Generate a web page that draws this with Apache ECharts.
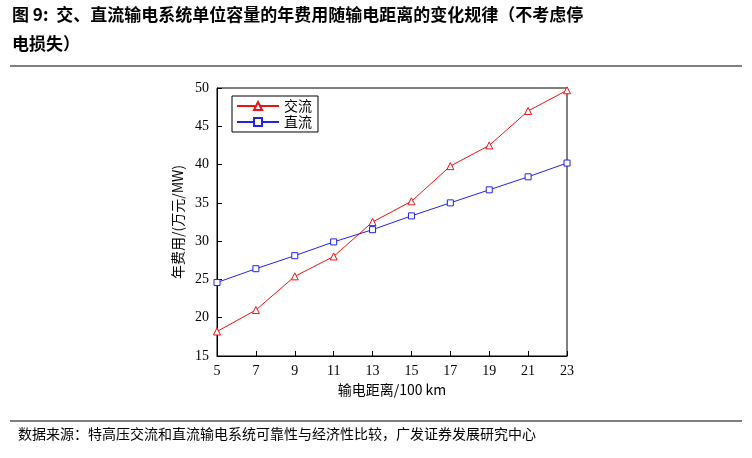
<!DOCTYPE html>
<html><head><meta charset="utf-8">
<script src="https://cdn.jsdelivr.net/npm/echarts@6/dist/echarts.min.js"></script>
<style>body{margin:0}#c{width:752px;height:458px}</style>
</head><body><div id="c"></div>
<script>
var distances = [5, 7, 9, 11, 13, 15, 17, 19, 21, 23];
var acCost = [18.2, 21.0, 25.4, 28.0, 32.5, 35.2, 39.8, 42.5, 47.0, 49.7];
var dcCost = [24.6, 26.4, 28.1, 29.9, 31.5, 33.3, 35.0, 36.7, 38.4, 40.2];

function pairs(ys) { return distances.map(function (d, i) { return [d, ys[i]]; }); }

var chart = echarts.init(document.getElementById('c'));
var serif = 'Liberation Serif';
var cjk = 'Noto Sans CJK SC';
chart.setOption({
    animation: false,
    backgroundColor: '#fff',
    graphic: [
        { type: 'text', left: 12, top: 6, style: { text: '图 9:  交、直流输电系统单位容量的年费用随输电距离的变化规律（不考虑停', font: 'bold 17px "Noto Sans CJK SC"', fill: '#000' } },
        { type: 'text', left: 12, top: 35, style: { text: '电损失）', font: 'bold 17px "Noto Sans CJK SC"', fill: '#000' } },
        { type: 'line', shape: { x1: 10, y1: 66, x2: 742, y2: 66 }, style: { stroke: '#000', lineWidth: 1 } },
        { type: 'line', shape: { x1: 10, y1: 421, x2: 742, y2: 421 }, style: { stroke: '#000', lineWidth: 1 } },
        { type: 'text', left: 18, top: 427, style: { text: '数据来源：特高压交流和直流输电系统可靠性与经济性比较，广发证券发展研究中心', font: '14px "Noto Sans CJK SC"', fill: '#000' } }
    ],
    grid: { left: 217, right: 185, top: 88, bottom: 102, show: true, borderColor: '#000', borderWidth: 1 },
    legend: {
        left: 232, top: 96, orient: 'vertical', itemGap: 2, itemWidth: 42, itemHeight: 10,
        backgroundColor: '#fff', borderColor: '#000', borderWidth: 1, padding: [3, 6, 3, 4],
        textStyle: { fontFamily: cjk, fontSize: 14, color: '#000' },
        data: ['交流', '直流']
    },
    xAxis: {
        type: 'value', min: 5, max: 23, interval: 2,
        name: '输电距离/100 km', nameLocation: 'middle', nameGap: 24,
        nameTextStyle: { fontFamily: cjk, fontSize: 14, color: '#000' },
        axisLine: { lineStyle: { color: '#000' } },
        axisTick: { inside: true, length: 5, lineStyle: { color: '#000' } },
        axisLabel: { fontFamily: serif, fontSize: 14, color: '#000', margin: 8 },
        splitLine: { show: false }
    },
    yAxis: {
        type: 'value', min: 15, max: 50, interval: 5,
        name: '年费用/(万元/MW)', nameLocation: 'middle', nameGap: 32,
        nameTextStyle: { fontFamily: cjk, fontSize: 14, color: '#000' },
        axisLine: { show: true, lineStyle: { color: '#000' } },
        axisTick: { inside: true, length: 5, lineStyle: { color: '#000' } },
        axisLabel: { fontFamily: serif, fontSize: 14, color: '#000', margin: 8 },
        splitLine: { show: false }
    },
    series: [
        { name: '交流', type: 'line', data: pairs(acCost), symbol: 'triangle', symbolSize: 7,
          itemStyle: { color: '#fff', borderColor: '#ee1111', borderWidth: 1 }, lineStyle: { color: '#ee1111', width: 1 } },
        { name: '直流', type: 'line', data: pairs(dcCost), symbol: 'rect', symbolSize: 6,
          itemStyle: { color: '#fff', borderColor: '#2222ee', borderWidth: 1 }, lineStyle: { color: '#2222ee', width: 1 } }
    ]
});
</script></body></html>
